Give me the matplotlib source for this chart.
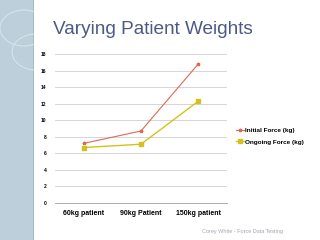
import matplotlib.pyplot as plt
from matplotlib.patches import Rectangle, Circle

categories = ['60kg patient', '90kg Patient', '150kg patient']
initial_force = [7.2, 8.7, 16.8]
ongoing_force = [6.7, 7.1, 12.3]
y_ticks = [0, 2, 4, 6, 8, 10, 12, 14, 16, 18]

plt.rcParams['font.family'] = ['Liberation Sans', 'DejaVu Sans']

fig = plt.figure(figsize=(3.2, 2.4), dpi=100)
fig.patch.set_facecolor('white')

# left decorative strip
strip = Rectangle((0, 0), 34 / 320, 1, transform=fig.transFigure,
                  facecolor='#bccfda', edgecolor='none', zorder=0)
fig.patches.append(strip)
edge = Rectangle((33 / 320, 0), 1.2 / 320, 1, transform=fig.transFigure,
                 facecolor='#a3b9c6', edgecolor='none', zorder=0)
fig.patches.append(edge)
for cx, cy, r in [(24, 28, 24), (36, 52, 24)]:
    c = Circle((cx / 320, 1 - cy / 240), r / 320, transform=fig.transFigure,
               facecolor='none', edgecolor='#d6e3ea', lw=0.8, zorder=1)
    c.set_clip_path(strip)
    fig.patches.append(c)

fig.text(53 / 320, 1 - 30 / 240, 'Varying Patient Weights', fontsize=13.7,
         color='#4e5a85', va='center', ha='left')

ax = fig.add_axes([55 / 320, 1 - 203 / 240, 172 / 320, 149 / 240])
x = range(len(categories))
ax.plot(x, initial_force, color='#dc6a52', lw=0.8, marker='*', ms=2.5,
        label='Initial Force (kg)')
ax.plot(x, ongoing_force, color='#d2c31a', lw=1.0, marker='s', ms=2.5,
        label='Ongoing Force (kg)')

ax.set_xlim(-0.5, 2.5)
ax.set_ylim(0, 18)
ax.set_yticks(y_ticks)
ax.set_yticklabels([str(t) for t in y_ticks], fontsize=3.5, fontweight='bold')
ax.set_xticks(list(x))
ax.set_xticklabels(categories, fontsize=5, fontweight='bold')
ax.tick_params(axis='y', length=0, pad=6)
ax.tick_params(axis='x', length=0, pad=5)
ax.grid(axis='y', color='#d0d0d0', lw=0.6)
ax.set_axisbelow(True)
for s in ['top', 'right', 'left']:
    ax.spines[s].set_visible(False)
ax.spines['bottom'].set_color('#a0a0a0')
ax.spines['bottom'].set_linewidth(0.6)

leg = ax.legend(loc='center left', bbox_to_anchor=(1.02, 0.45), frameon=False,
                prop={'size': 4.6, 'weight': 'bold'}, handlelength=1.2,
                handletextpad=0.2, labelspacing=1.0)

fig.text(243 / 320, 1 - 232 / 240, 'Corey White - Force Data Testing',
         fontsize=4, color='#a0a8b0', ha='center', va='center')

fig.savefig('out.png', dpi=100)
